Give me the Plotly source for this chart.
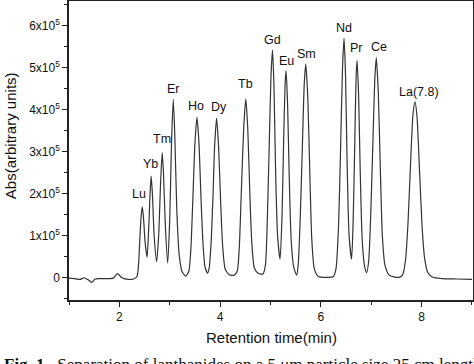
import plotly.graph_objects as go

# Chromatogram trace: retention time (min), absorbance (x10^5)
time_min = [
    1.00, 1.10, 1.22, 1.30, 1.38, 1.45, 1.52, 1.60, 1.75, 1.88, 1.96, 2.05, 2.18, 2.28, 2.35,
    2.38, 2.41, 2.435, 2.456, 2.48, 2.51, 2.55,
    2.58, 2.61, 2.63, 2.655, 2.69, 2.74,
    2.78, 2.82, 2.85, 2.875, 2.91, 2.96,
    3.00, 3.035, 3.07, 3.10, 3.14, 3.19, 3.25, 3.32,
    3.38, 3.42, 3.46, 3.50, 3.54, 3.58, 3.62, 3.66, 3.70, 3.75,
    3.78, 3.82, 3.86, 3.89, 3.93, 3.97, 4.01, 4.05, 4.10, 4.18, 4.28,
    4.34, 4.38, 4.42, 4.47, 4.51, 4.55, 4.59, 4.63, 4.68, 4.76, 4.85,
    4.90, 4.94, 4.98, 5.01, 5.04, 5.07, 5.10, 5.14, 5.19,
    5.23, 5.26, 5.29, 5.31, 5.34, 5.37, 5.41, 5.46, 5.52,
    5.55, 5.59, 5.63, 5.67, 5.70, 5.74, 5.78, 5.82, 5.87, 5.95, 6.10, 6.25,
    6.30, 6.35, 6.39, 6.43, 6.46, 6.49, 6.52, 6.56, 6.61,
    6.64, 6.67, 6.70, 6.72, 6.75, 6.78, 6.82, 6.87, 6.91,
    6.95, 6.99, 7.03, 7.07, 7.10, 7.14, 7.18, 7.22, 7.27, 7.35, 7.45, 7.55,
    7.62, 7.68, 7.73, 7.78, 7.83, 7.87, 7.91, 7.96, 8.01, 8.06, 8.12, 8.22, 8.40, 8.70, 9.00,
]
abs_e5 = [
    -0.02, -0.03, -0.05, -0.01, -0.06, -0.12, -0.04, -0.03, -0.03, -0.02, 0.09, -0.01, -0.05, -0.04, 0.02,
    0.30, 1.00, 1.50, 1.68, 1.40, 0.85, 0.48,
    1.10, 2.00, 2.41, 2.00, 1.00, 0.37,
    1.00, 2.30, 2.97, 2.50, 1.30, 0.34,
    1.40, 3.20, 4.24, 3.40, 1.60, 0.50, 0.12, 0.03,
    0.15, 0.70, 1.90, 3.20, 3.81, 3.20, 1.90, 0.80, 0.25, 0.10,
    0.20, 0.80, 2.00, 3.10, 3.79, 3.10, 1.80, 0.75, 0.20, 0.06, 0.05,
    0.15, 0.70, 2.00, 3.60, 4.25, 3.50, 2.00, 0.80, 0.22, 0.09, 0.08,
    0.30, 1.50, 3.40, 4.80, 5.41, 4.50, 2.60, 1.00, 0.43,
    1.50, 3.20, 4.60, 4.92, 4.10, 2.50, 0.90, 0.25, 0.05,
    0.30, 1.40, 3.00, 4.60, 5.08, 4.30, 2.50, 0.90, 0.20, 0.02, 0.00, 0.02,
    0.20, 1.20, 3.00, 5.00, 5.69, 4.80, 2.80, 1.00, 0.43,
    1.30, 3.00, 4.80, 5.16, 4.30, 2.60, 0.90, 0.25, 0.11,
    0.40, 1.50, 3.10, 4.70, 5.23, 4.40, 2.60, 1.00, 0.30, 0.06, 0.01, 0.00,
    0.05, 0.40, 1.30, 2.70, 3.90, 4.18, 3.80, 2.50, 1.20, 0.45, 0.12, 0.00, -0.03, -0.04, -0.05,
]

# Peak labels and their positions (min, x10^5)
peak_labels = ["Lu", "Yb", "Tm", "Er", "Ho", "Dy", "Tb", "Gd", "Eu", "Sm", "Nd", "Pr", "Ce", "La(7.8)"]
label_time = [2.38, 2.61, 2.84, 3.07, 3.52, 3.98, 4.51, 5.04, 5.31, 5.72, 6.46, 6.71, 7.15, 7.95]
label_abs = [1.98, 2.69, 3.29, 4.48, 4.08, 4.06, 4.60, 5.64, 5.14, 5.31, 5.93, 5.45, 5.49, 4.42]

x_tick_vals = [2, 4, 6, 8]
y_tick_vals = [0, 1, 2, 3, 4, 5, 6]
y_tick_text = ["0", "1x10<sup>5</sup>", "2x10<sup>5</sup>", "3x10<sup>5</sup>",
               "4x10<sup>5</sup>", "5x10<sup>5</sup>", "6x10<sup>5</sup>"]

SCALE = 1e5
font_family = "Liberation Sans, Arial, sans-serif"

fig = go.Figure()
fig.add_trace(go.Scatter(
    x=time_min,
    y=[v * SCALE for v in abs_e5],
    mode="lines",
    line=dict(color="#333333", width=1.2, shape="spline", smoothing=0.6),
    hoverinfo="skip",
    showlegend=False,
))

for lab, t, a in zip(peak_labels, label_time, label_abs):
    fig.add_annotation(
        x=t, y=a * SCALE, text=lab, showarrow=False,
        font=dict(family=font_family, size=12.5, color="#111111"),
        xanchor="center", yanchor="middle",
    )

# Axis titles
fig.add_annotation(
    xref="paper", yref="paper", x=0.5, y=-0.124,
    xanchor="center", yanchor="middle", showarrow=False,
    text="Retention time(min)",
    font=dict(family=font_family, size=15, color="#111111"),
)
fig.add_annotation(
    xref="paper", yref="paper", x=-0.146, y=0.548,
    xanchor="center", yanchor="middle", showarrow=False, textangle=-90,
    text="Abs(arbitrary units)",
    font=dict(family=font_family, size=15, color="#111111"),
)

# Figure caption (cut off at the bottom edge as in the source)
fig.add_annotation(
    xref="paper", yref="paper", x=-0.165, y=-0.176,
    xanchor="left", yanchor="top", showarrow=False,
    text="<b>Fig. 1.</b>  Separation of lanthanides on a 5 μm particle size 25 cm length",
    font=dict(family="Liberation Serif, Times New Roman, serif", size=17, color="#111111"),
)

axis_common = dict(
    showline=True, linecolor="#222222", linewidth=1.5, mirror=True,
    ticks="outside", ticklen=5, tickwidth=1.2, tickcolor="#222222",
    showgrid=False, zeroline=False, automargin=False,
    tickfont=dict(family=font_family, size=12, color="#111111"),
)

fig.update_xaxes(
    range=[1.0, 9.02],
    tickvals=x_tick_vals,
    minor=dict(ticks="outside", ticklen=3, tickcolor="#222222", dtick=1, tick0=1, showgrid=False),
    **axis_common,
)
fig.update_yaxes(
    range=[-0.54 * SCALE, 6.58 * SCALE],
    tickvals=[v * SCALE for v in y_tick_vals],
    ticktext=y_tick_text,
    minor=dict(ticks="outside", ticklen=3, tickcolor="#222222", dtick=0.5 * SCALE, tick0=0, showgrid=False),
    **axis_common,
)

fig.update_layout(
    width=474, height=364,
    margin=dict(l=69, r=1, t=1, b=64, pad=0),
    paper_bgcolor="white", plot_bgcolor="white",
)

fig.write_html(
    "out.html",
    config={"displayModeBar": False},
    post_script="document.body.style.margin='0';document.body.style.overflow='hidden';",
)
